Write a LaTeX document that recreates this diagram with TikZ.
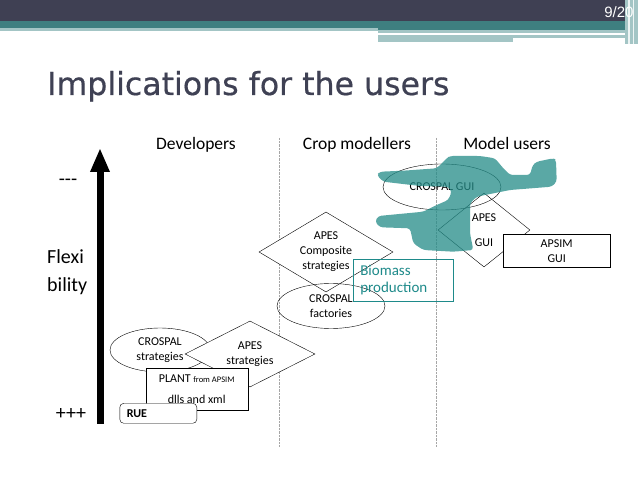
\documentclass[tikz,border=0pt]{standalone}
\usepackage{fontspec}
\setmainfont{Carlito}
\newfontfamily\titlefont{DejaVu Sans}[FakeBold=0.5]
\newfontfamily\numfont{Liberation Sans}
\usetikzlibrary{shapes.geometric,arrows.meta}
\definecolor{slate}{HTML}{3F4053}
\definecolor{titlegray}{HTML}{3F4154}
\definecolor{barteal}{HTML}{3E7F80}
\definecolor{paleteal}{HTML}{A3C5C5}
\definecolor{blobteal}{HTML}{238C88}
\definecolor{boxteal}{HTML}{1E8A8A}

\begin{document}
\begin{tikzpicture}[x=1pt,y=-1pt,
  usrellipse/.style={draw, ellipse, inner sep=0pt, align=center, font=\fontsize{12}{15}\selectfont},
  usrdiamond/.style={draw, fill=white, diamond, inner sep=0pt, aspect=1.6, align=center, font=\fontsize{12}{15}\selectfont},
  usrbox/.style={draw, fill=white, rectangle, inner sep=0pt, align=center, font=\fontsize{12}{15}\selectfont},
  colhead/.style={anchor=base, font=\fontsize{17.5}{20}\selectfont},
  sidelabel/.style={font=\fontsize{20}{28}\selectfont}]
\useasboundingbox (0,0) rectangle (638,478);
\fill[white] (0,0) rectangle (638,478);
% header bars
\fill[slate] (0,0) rectangle (638,21);
\fill[barteal] (0,21) rectangle (638,28);
\fill[paleteal] (0,28) rectangle (378,31);
\fill[barteal] (378,28) rectangle (638,30);
\fill[paleteal] (378,30) rectangle (638,33);
\fill[paleteal] (378,35) rectangle (513,42);
\fill[paleteal] (513,35) rectangle (625,38);
\fill[paleteal] (625,0) rectangle (638,44);
\fill[white!80!paleteal] (628,0) rectangle (630,44);
\fill[white!80!paleteal] (633,0) rectangle (634,44);
\node[anchor=east, text=white, font=\numfont\fontsize{15}{15}\selectfont] (pagenum) at (637,12) {9/20};

\node[anchor=base west, inner sep=0pt, text=titlegray, font=\titlefont\fontsize{31.6}{32}\selectfont] (title) at (47,95) {Implications for the users};

% columns
\node[colhead] (devs) at (196,150) {Developers};
\node[colhead] (cropmod) at (357,150) {Crop modellers};
\node[colhead] (modusers) at (507,150) {Model users};
\draw[gray!70, densely dotted] (279,138) -- (279,447);
\draw[gray!70, densely dotted] (436,138) -- (436,447);

% flexibility axis
\coordinate (flexlow) at (100,424);
\coordinate (flexhigh) at (100,148);
\draw[line width=7pt, -{Triangle[length=24pt,width=18pt]}] (flexlow) -- (flexhigh);
\node[sidelabel] (minus) at (68,182) {-{}-{}-};
\node[sidelabel] (plus) at (71,414) {+++};
\node[sidelabel, anchor=west, align=left, inner sep=0pt] (flexi) at (47,272) {Flexi\\bility};

% developers
\node[usrellipse, minimum width=100, minimum height=44] (crospalstrat) at (160,350) {CROSPAL\\strategies};
\node[usrdiamond, minimum width=130, minimum height=66] (apesstrat) at (250,354) {APES\\strategies};
\node[usrbox, minimum width=102, minimum height=42] (plant) at (196.7,389) {PLANT {\fontsize{8.5}{10}\selectfont from APSIM}\\[6pt]dlls and xml};
\node[usrbox, rounded corners=4pt, minimum width=77, minimum height=20, text width=63pt, align=left, font=\bfseries\fontsize{12}{14}\selectfont] (rue) at (158.3,413.3) {RUE};

% crop modellers
\node[usrdiamond, aspect=1.675, minimum width=134, minimum height=80] (apescomp) at (326,252) {APES\\Composite\\strategies};
\node[usrellipse, minimum width=108, minimum height=45] (crospalfac) at (331,306) {CROSPAL\\factories};
\node[draw=boxteal, line width=1.6pt, text=boxteal, minimum width=100, minimum height=42, inner sep=0pt, text width=86pt, align=left, font=\fontsize{15}{17}\selectfont] (biomass) at (403.3,280.5) {Biomass\\production};

% model users
\node[usrellipse, minimum width=118, minimum height=46] (crospalgui) at (442,187) {CROSPAL GUI};
\node[usrdiamond, fill=none, minimum width=92, minimum height=74] (apesgui) at (484,230) {APES\\[10pt]GUI};
\node[usrbox, minimum width=107, minimum height=33] (apsimgui) at (556.7,250.7) {APSIM\\GUI};

% highlight blob
\fill[blobteal, opacity=0.75, rounded corners=3pt]
  (376.7,175) -- (380,171.7) -- (403,170.7) -- (436.7,168.3) -- (446.7,158.3)
  -- (450,156) -- (480,156) -- (495,158.3) -- (503.3,168.3) -- (510,175)
  -- (530,175) -- (532.7,165) -- (536.7,161.7) -- (553.3,158.3) -- (556,160)
  -- (556.7,181.7) -- (551.7,186.7) -- (510,190) -- (476.7,196.7) -- (470,203.3)
  -- (470,233.3) -- (473.3,250) -- (453.3,251.7) -- (423.3,250) -- (413.3,243.3)
  -- (410,228.3) -- (380,227.3) -- (375,221.7) -- (378.3,216) -- (423.3,211.7)
  -- (436.7,205) -- (448.3,200) -- (451.7,191.7) -- (448.3,186.7) -- (420,186)
  -- (383.3,181.7) -- cycle;
\end{tikzpicture}
\end{document}
